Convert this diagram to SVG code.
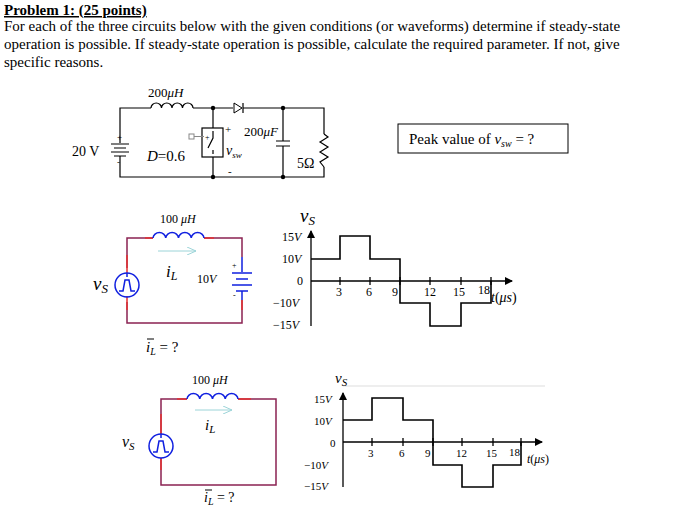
<svg xmlns="http://www.w3.org/2000/svg" width="690" height="517" viewBox="0 0 690 517">
<style>
text{font-family:"Liberation Serif",serif;fill:#000}
.w{stroke:#000;stroke-width:1.2;fill:none}
.m{stroke:#8b2252;stroke-width:1.5;fill:none}
.r{stroke:#e53030;stroke-width:1.5;fill:none}
.b{stroke:#1020e0;stroke-width:1.5;fill:none}
.ax{stroke:#000;stroke-width:1.3;fill:none}
.wf{stroke:#000;stroke-width:1.6;fill:none}
.t{font-size:12px}
</style>
<defs>
<marker id="ah" markerWidth="8" markerHeight="8" refX="7" refY="4" orient="auto" markerUnits="userSpaceOnUse"><path d="M0,0 L8,4 L0,8 Z" fill="#000"/></marker>
<marker id="la" markerWidth="10" markerHeight="8" refX="9" refY="4" orient="auto" markerUnits="userSpaceOnUse"><path d="M0,0 L9,4 L0,8" fill="none" stroke="#9cd4d8" stroke-width="1"/></marker>
</defs>
<g id="header">
<text x="4" y="15" font-size="15" font-weight="bold" text-decoration="underline">Problem 1: (25 points)</text>
<text x="4" y="31" font-size="15">For each of the three circuits below with the given conditions (or waveforms) determine if steady-state</text>
<text x="4" y="49" font-size="15">operation is possible.  If steady-state operation is possible, calculate the required parameter.  If not, give</text>
<text x="4" y="67" font-size="15">specific reasons.</text>
</g>
<g id="circuit1">
<path class="w" d="M120,143 V108 H151 M193,108 H233 M243,108 H324 V134 M324,167 V177 H120 V156"/>
<path class="w" d="M151,108 a5.25,5 0 0 1 10.5,0 a5.25,5 0 0 1 10.5,0 a5.25,5 0 0 1 10.5,0 a5.25,5 0 0 1 10.5,0"/>
<path class="w" d="M111,144 H129 M114,148 H126 M111,152 H129 M114,156 H126"/>
<text x="117" y="140" font-size="9">+</text><text x="117" y="165" font-size="9">-</text>
<text x="72" y="156" font-size="14">20 V</text>
<text x="147" y="161" font-size="15" font-style="italic">D<tspan font-style="normal">=0.6</tspan></text>
<path d="M234,103 V113 L242,108 Z" fill="none" stroke="#000"/><path class="w" d="M243,103 V113"/>
<circle cx="213" cy="108" r="2.2"/><circle cx="283" cy="108" r="2.2"/><circle cx="213" cy="177" r="2.2"/><circle cx="283" cy="177" r="2.2"/>
<path class="w" d="M213,108 V128 M213,157 V177"/>
<rect x="202" y="128" width="21" height="29" class="w"/>
<path class="w" d="M213,131 V138 L208,148 M213,150 V154"/>
<rect x="189" y="134" width="5" height="5" fill="none" stroke="#888"/>
<path d="M194,136.5 H204" stroke="#888" fill="none"/>
<text x="205" y="140" font-size="8">+</text>
<text x="225" y="133" font-size="11">+</text><text x="228" y="175" font-size="11">-</text>
<text x="226" y="155" font-size="14" font-style="italic">v<tspan font-size="9" dy="3">sw</tspan></text>
<path class="w" d="M283,108 V141 M276,141 H290 M276,146 H290 M283,146 V177"/>
<text x="244" y="136" font-size="13">200<tspan font-style="italic">μF</tspan></text>
<path class="w" d="M324,134 l4,3 -8,5 8,5 -8,5 8,5 -8,5 4,5"/>
<text x="297" y="168" font-size="14">5Ω</text>
<text x="148" y="97" font-size="13">200<tspan font-style="italic">μH</tspan></text>
<rect x="398" y="124" width="170" height="29" fill="none" stroke="#000"/>
<text x="409" y="144" font-size="15">Peak value of <tspan font-style="italic">v</tspan><tspan font-size="10" font-style="italic" dy="3">sw</tspan><tspan dy="-3"> = ?</tspan></text>
</g>
<g id="circuit2">
<path class="m" d="M127,268 V238 H153 M204,238 H242 V257 M242,300 V323 H127 V302"/>
<path class="r" d="M127,255 V273 M127,296 V310 M145,238 H153 M204,238 H214 M242,300 V310"/>
<circle cx="127" cy="285" r="12" class="b"/>
<path class="b" d="M119,291 H123 L125,280 H129 L131,291 H135 M127,273 V277"/>
<path class="b" d="M153,238 a6.4,6 0 0 1 12.75,0 a6.4,6 0 0 1 12.75,0 a6.4,6 0 0 1 12.75,0 a6.4,6 0 0 1 12.75,0"/>
<path class="b" d="M242,257 V272 M232,273 H252 M236,279 H248 M232,285 H252 M236,291 H248 M242,291 V300"/>
<text x="232" y="268" font-size="8" fill="#1020e0">+</text><text x="233" y="298" font-size="8" fill="#1020e0">-</text>
<path d="M158,251 H196" stroke="#9cd4d8" marker-end="url(#la)"/>
<text x="160" y="223" class="t">100 <tspan font-style="italic">μH</tspan></text>
<text x="166" y="277" font-size="17" font-style="italic">i<tspan font-size="12" dy="3">L</tspan></text>
<text x="197" y="283" class="t">10<tspan font-style="italic">V</tspan></text>
<text x="93" y="290" font-size="19" font-style="italic">v<tspan font-size="13" dy="3">S</tspan></text>
<text x="146" y="352" font-size="15" font-style="italic">i<tspan font-size="10" dy="3">L</tspan><tspan font-style="normal" dy="-3"> = ?</tspan></text>
<path d="M147,339 H154" stroke="#000"/>
</g>
<g id="waveform1">
<path class="ax" d="M311,326 V231" marker-end="url(#ah)"/>
<path class="ax" d="M311,281 H512" marker-end="url(#ah)"/>
<path class="wf" d="M311,259 H340 V236 H370 V259 H400 V303 H430 V326 H461 V303 H491 V281"/>
<path class="ax" d="M340,277 V285 M370,277 V285 M400,277 V285 M430,277 V285 M461,277 V285 M491,277 V285"/>
<text x="300" y="222" font-size="19" font-style="italic">v<tspan font-size="13" dy="3">S</tspan></text>
<text x="282" y="241" class="t">15<tspan font-style="italic">V</tspan></text>
<text x="282" y="263" class="t">10<tspan font-style="italic">V</tspan></text>
<text x="297" y="285" class="t">0</text>
<text x="273" y="307" class="t">−10<tspan font-style="italic">V</tspan></text>
<text x="273" y="329" class="t">−15<tspan font-style="italic">V</tspan></text>
<text x="336" y="296" class="t">3</text><text x="366" y="296" class="t">6</text><text x="392" y="296" class="t">9</text>
<text x="424" y="296" class="t">12</text><text x="453" y="296" class="t">15</text><text x="478" y="294" class="t">18</text>
<text x="491" y="302" font-size="14" font-style="italic">t<tspan font-style="normal">(</tspan>μs<tspan font-style="normal">)</tspan></text>
</g>
<g id="circuit3">
<path class="m" d="M161,434 V399 H187 M238,399 H276 V485 H161 V458"/>
<path class="r" d="M161,414 V434 M161,458 V470 M177,399 H187 M238,399 H251"/>
<circle cx="161" cy="446" r="12" class="b"/>
<path class="b" d="M153,452 H157 L159,441 H163 L165,452 H169 M161,434 V438"/>
<path class="b" d="M187,399 a6.4,6 0 0 1 12.75,0 a6.4,6 0 0 1 12.75,0 a6.4,6 0 0 1 12.75,0 a6.4,6 0 0 1 12.75,0"/>
<path d="M195,410 H232" stroke="#9cd4d8" marker-end="url(#la)"/>
<text x="192" y="384" class="t">100 <tspan font-style="italic">μH</tspan></text>
<text x="205" y="430" font-size="15" font-style="italic">i<tspan font-size="11" dy="3">L</tspan></text>
<text x="122" y="447" font-size="16" font-style="italic">v<tspan font-size="11" dy="3">S</tspan></text>
<text x="204" y="502" font-size="14" font-style="italic">i<tspan font-size="10" dy="3">L</tspan><tspan font-style="normal" dy="-3"> = ?</tspan></text>
<path d="M205,490 H212" stroke="#000"/>
</g>
<g id="waveform2">
<path d="M343,386 H545" stroke="#ddd"/>
<path class="ax" d="M343,487 V393" marker-end="url(#ah)"/>
<path class="ax" d="M343,442 H542" marker-end="url(#ah)"/>
<path class="wf" d="M343,420 H372 V398 H403 V420 H433 V465 H462 V487 H493 V465 H521 V442"/>
<path class="ax" d="M372,438 V446 M403,438 V446 M433,438 V446 M462,438 V446 M493,438 V446 M521,438 V446"/>
<text x="335" y="383" font-size="15" font-style="italic">v<tspan font-size="11" dy="3">S</tspan></text>
<text x="314" y="403" font-size="11">15<tspan font-style="italic">V</tspan></text>
<text x="314" y="425" font-size="11">10<tspan font-style="italic">V</tspan></text>
<text x="330" y="447" font-size="11">0</text>
<text x="304" y="469" font-size="11">−10<tspan font-style="italic">V</tspan></text>
<text x="304" y="490" font-size="11">−15<tspan font-style="italic">V</tspan></text>
<text x="368" y="457" font-size="11">3</text><text x="399" y="457" font-size="11">6</text><text x="425" y="457" font-size="11">9</text>
<text x="456" y="457" font-size="11">12</text><text x="486" y="457" font-size="11">15</text><text x="509" y="456" font-size="11">18</text>
<text x="527" y="463" font-size="12" font-style="italic">t<tspan font-style="normal">(</tspan>μs<tspan font-style="normal">)</tspan></text>
</g>
</svg>
